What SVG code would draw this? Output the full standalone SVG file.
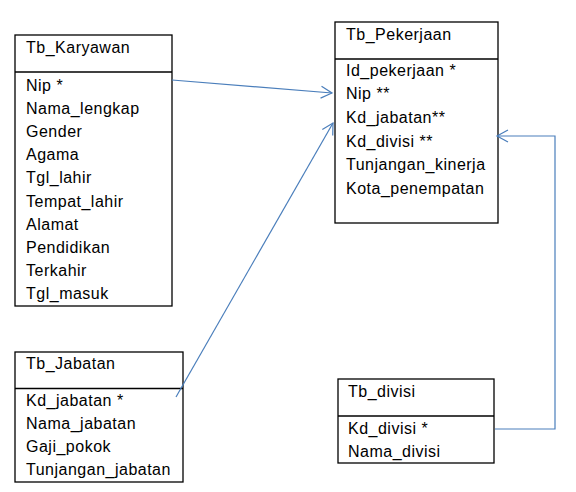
<svg xmlns="http://www.w3.org/2000/svg" width="576" height="492" viewBox="0 0 576 492">
<defs>
<style>
.box{fill:#fff;stroke:#000;stroke-width:1.3}
.div{stroke:#000;stroke-width:1.3}
text{font-family:"Liberation Sans",Arial,sans-serif;font-size:16px;fill:#000;letter-spacing:0.5px}
.con{fill:none;stroke:#4a7ebb;stroke-width:1.2}
</style>
<marker id="arr" markerWidth="14" markerHeight="14" refX="12" refY="7" orient="auto" markerUnits="userSpaceOnUse">
<path d="M1,1 L12,7 L1,13" fill="none" stroke="#4a7ebb" stroke-width="1.2"/>
</marker>
</defs>
<rect width="576" height="492" fill="#fff"/>
<g id="tb_karyawan">
<rect class="box" x="15" y="35" width="157" height="271"/>
<line class="div" x1="15" y1="72" x2="172" y2="72"/>
<text x="26" y="53">Tb_Karyawan</text>
<text x="26" y="91">Nip *</text>
<text x="26" y="114">Nama_lengkap</text>
<text x="26" y="137">Gender</text>
<text x="26" y="160">Agama</text>
<text x="26" y="183">Tgl_lahir</text>
<text x="26" y="207">Tempat_lahir</text>
<text x="26" y="230">Alamat</text>
<text x="26" y="253">Pendidikan</text>
<text x="26" y="276">Terkahir</text>
<text x="26" y="299">Tgl_masuk</text>
</g>
<g id="tb_pekerjaan">
<rect class="box" x="335" y="22" width="163" height="201"/>
<line class="div" x1="335" y1="59" x2="498" y2="59"/>
<text x="346" y="40">Tb_Pekerjaan</text>
<text x="346" y="76">Id_pekerjaan *</text>
<text x="346" y="99">Nip **</text>
<text x="346" y="123">Kd_jabatan**</text>
<text x="346" y="147">Kd_divisi **</text>
<text x="346" y="170">Tunjangan_kinerja</text>
<text x="346" y="194">Kota_penempatan</text>
</g>
<g id="tb_jabatan">
<rect class="box" x="15" y="352" width="168" height="130"/>
<line class="div" x1="15" y1="388.5" x2="183" y2="388.5"/>
<text x="26" y="369">Tb_Jabatan</text>
<text x="26" y="406">Kd_jabatan *</text>
<text x="26" y="429">Nama_jabatan</text>
<text x="26" y="452">Gaji_pokok</text>
<text x="26" y="475">Tunjangan_jabatan</text>
</g>
<g id="tb_divisi">
<rect class="box" x="338" y="379" width="156" height="84"/>
<line class="div" x1="338" y1="416" x2="494" y2="416"/>
<text x="348" y="397">Tb_divisi</text>
<text x="348" y="434">Kd_divisi *</text>
<text x="348" y="457">Nama_divisi</text>
</g>
<g id="connectors">
<line class="con" x1="172" y1="80" x2="332" y2="93" marker-end="url(#arr)"/>
<line class="con" x1="176" y1="397" x2="333" y2="123" marker-end="url(#arr)"/>
<polyline class="con" points="495,429 555,429 555,136 497,136" marker-end="url(#arr)"/>
</g>
</svg>
